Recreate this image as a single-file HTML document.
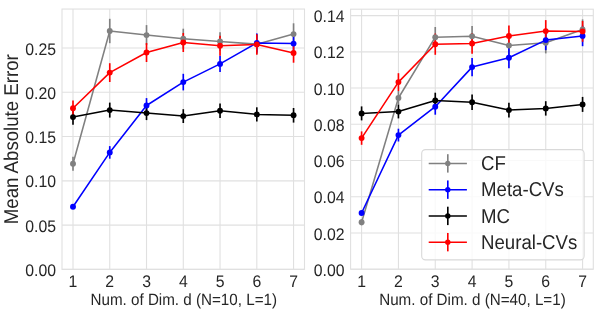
<!DOCTYPE html>
<html><head><meta charset="utf-8"><style>
html,body{margin:0;padding:0;background:#fff;}
svg{display:block;will-change:transform;}
text{font-family:"Liberation Sans",sans-serif;fill:#262626;text-rendering:geometricPrecision;-webkit-font-smoothing:antialiased;}
</style></head><body>
<svg width="598" height="312" viewBox="0 0 598 312">
<rect width="598" height="312" fill="#fff"/>
<line x1="73.00" y1="9.05" x2="73.00" y2="269.4" stroke="#e0e0e0" stroke-width="1.1"/>
<line x1="109.76" y1="9.05" x2="109.76" y2="269.4" stroke="#e0e0e0" stroke-width="1.1"/>
<line x1="146.52" y1="9.05" x2="146.52" y2="269.4" stroke="#e0e0e0" stroke-width="1.1"/>
<line x1="183.28" y1="9.05" x2="183.28" y2="269.4" stroke="#e0e0e0" stroke-width="1.1"/>
<line x1="220.04" y1="9.05" x2="220.04" y2="269.4" stroke="#e0e0e0" stroke-width="1.1"/>
<line x1="256.80" y1="9.05" x2="256.80" y2="269.4" stroke="#e0e0e0" stroke-width="1.1"/>
<line x1="293.56" y1="9.05" x2="293.56" y2="269.4" stroke="#e0e0e0" stroke-width="1.1"/>
<line x1="62.0" y1="269.40" x2="304.5" y2="269.40" stroke="#e0e0e0" stroke-width="1.1"/>
<line x1="62.0" y1="225.12" x2="304.5" y2="225.12" stroke="#e0e0e0" stroke-width="1.1"/>
<line x1="62.0" y1="180.84" x2="304.5" y2="180.84" stroke="#e0e0e0" stroke-width="1.1"/>
<line x1="62.0" y1="136.56" x2="304.5" y2="136.56" stroke="#e0e0e0" stroke-width="1.1"/>
<line x1="62.0" y1="92.28" x2="304.5" y2="92.28" stroke="#e0e0e0" stroke-width="1.1"/>
<line x1="62.0" y1="48.00" x2="304.5" y2="48.00" stroke="#e0e0e0" stroke-width="1.1"/>
<rect x="62.0" y="9.05" width="242.50" height="260.35" fill="none" stroke="#e0e0e0" stroke-width="1.1"/>
<line x1="73.00" y1="156.70" x2="73.00" y2="170.70" stroke="#808080" stroke-width="1.65"/>
<line x1="109.76" y1="18.80" x2="109.76" y2="43.20" stroke="#808080" stroke-width="1.65"/>
<line x1="146.52" y1="25.10" x2="146.52" y2="45.10" stroke="#808080" stroke-width="1.65"/>
<line x1="183.28" y1="28.70" x2="183.28" y2="48.70" stroke="#808080" stroke-width="1.65"/>
<line x1="220.04" y1="32.30" x2="220.04" y2="50.70" stroke="#808080" stroke-width="1.65"/>
<line x1="256.80" y1="34.20" x2="256.80" y2="54.20" stroke="#808080" stroke-width="1.65"/>
<line x1="293.56" y1="23.30" x2="293.56" y2="44.90" stroke="#808080" stroke-width="1.65"/>
<line x1="73.00" y1="204.80" x2="73.00" y2="208.80" stroke="#0000ff" stroke-width="1.65"/>
<line x1="109.76" y1="146.10" x2="109.76" y2="158.70" stroke="#0000ff" stroke-width="1.65"/>
<line x1="146.52" y1="98.10" x2="146.52" y2="112.90" stroke="#0000ff" stroke-width="1.65"/>
<line x1="183.28" y1="73.80" x2="183.28" y2="90.40" stroke="#0000ff" stroke-width="1.65"/>
<line x1="220.04" y1="55.70" x2="220.04" y2="72.10" stroke="#0000ff" stroke-width="1.65"/>
<line x1="256.80" y1="33.40" x2="256.80" y2="52.60" stroke="#0000ff" stroke-width="1.65"/>
<line x1="293.56" y1="34.60" x2="293.56" y2="52.60" stroke="#0000ff" stroke-width="1.65"/>
<line x1="73.00" y1="109.50" x2="73.00" y2="124.70" stroke="#000000" stroke-width="1.65"/>
<line x1="109.76" y1="102.60" x2="109.76" y2="117.60" stroke="#000000" stroke-width="1.65"/>
<line x1="146.52" y1="106.10" x2="146.52" y2="120.10" stroke="#000000" stroke-width="1.65"/>
<line x1="183.28" y1="109.20" x2="183.28" y2="123.00" stroke="#000000" stroke-width="1.65"/>
<line x1="220.04" y1="103.40" x2="220.04" y2="118.00" stroke="#000000" stroke-width="1.65"/>
<line x1="256.80" y1="107.30" x2="256.80" y2="121.50" stroke="#000000" stroke-width="1.65"/>
<line x1="293.56" y1="108.00" x2="293.56" y2="122.60" stroke="#000000" stroke-width="1.65"/>
<line x1="73.00" y1="100.50" x2="73.00" y2="116.10" stroke="#ff0000" stroke-width="1.65"/>
<line x1="109.76" y1="63.20" x2="109.76" y2="82.00" stroke="#ff0000" stroke-width="1.65"/>
<line x1="146.52" y1="43.00" x2="146.52" y2="62.00" stroke="#ff0000" stroke-width="1.65"/>
<line x1="183.28" y1="33.00" x2="183.28" y2="52.00" stroke="#ff0000" stroke-width="1.65"/>
<line x1="220.04" y1="35.70" x2="220.04" y2="55.70" stroke="#ff0000" stroke-width="1.65"/>
<line x1="256.80" y1="34.30" x2="256.80" y2="54.70" stroke="#ff0000" stroke-width="1.65"/>
<line x1="293.56" y1="43.30" x2="293.56" y2="62.70" stroke="#ff0000" stroke-width="1.65"/>
<polyline points="73.00,163.70 109.76,31.00 146.52,35.10 183.28,38.70 220.04,41.50 256.80,44.20 293.56,34.10" fill="none" stroke="#808080" stroke-width="1.55" stroke-linejoin="round"/>
<circle cx="73.00" cy="163.70" r="2.95" fill="#808080"/>
<circle cx="109.76" cy="31.00" r="2.95" fill="#808080"/>
<circle cx="146.52" cy="35.10" r="2.95" fill="#808080"/>
<circle cx="183.28" cy="38.70" r="2.95" fill="#808080"/>
<circle cx="220.04" cy="41.50" r="2.95" fill="#808080"/>
<circle cx="256.80" cy="44.20" r="2.95" fill="#808080"/>
<circle cx="293.56" cy="34.10" r="2.95" fill="#808080"/>
<polyline points="73.00,206.80 109.76,152.40 146.52,105.50 183.28,82.10 220.04,63.90 256.80,43.00 293.56,43.60" fill="none" stroke="#0000ff" stroke-width="1.55" stroke-linejoin="round"/>
<circle cx="73.00" cy="206.80" r="2.95" fill="#0000ff"/>
<circle cx="109.76" cy="152.40" r="2.95" fill="#0000ff"/>
<circle cx="146.52" cy="105.50" r="2.95" fill="#0000ff"/>
<circle cx="183.28" cy="82.10" r="2.95" fill="#0000ff"/>
<circle cx="220.04" cy="63.90" r="2.95" fill="#0000ff"/>
<circle cx="256.80" cy="43.00" r="2.95" fill="#0000ff"/>
<circle cx="293.56" cy="43.60" r="2.95" fill="#0000ff"/>
<polyline points="73.00,117.10 109.76,110.10 146.52,113.10 183.28,116.10 220.04,110.70 256.80,114.40 293.56,115.30" fill="none" stroke="#000000" stroke-width="1.55" stroke-linejoin="round"/>
<circle cx="73.00" cy="117.10" r="2.95" fill="#000000"/>
<circle cx="109.76" cy="110.10" r="2.95" fill="#000000"/>
<circle cx="146.52" cy="113.10" r="2.95" fill="#000000"/>
<circle cx="183.28" cy="116.10" r="2.95" fill="#000000"/>
<circle cx="220.04" cy="110.70" r="2.95" fill="#000000"/>
<circle cx="256.80" cy="114.40" r="2.95" fill="#000000"/>
<circle cx="293.56" cy="115.30" r="2.95" fill="#000000"/>
<polyline points="73.00,108.30 109.76,72.60 146.52,52.50 183.28,42.50 220.04,45.70 256.80,44.50 293.56,53.00" fill="none" stroke="#ff0000" stroke-width="1.55" stroke-linejoin="round"/>
<circle cx="73.00" cy="108.30" r="2.95" fill="#ff0000"/>
<circle cx="109.76" cy="72.60" r="2.95" fill="#ff0000"/>
<circle cx="146.52" cy="52.50" r="2.95" fill="#ff0000"/>
<circle cx="183.28" cy="42.50" r="2.95" fill="#ff0000"/>
<circle cx="220.04" cy="45.70" r="2.95" fill="#ff0000"/>
<circle cx="256.80" cy="44.50" r="2.95" fill="#ff0000"/>
<circle cx="293.56" cy="53.00" r="2.95" fill="#ff0000"/>
<text transform="translate(56,276.00) scale(1,1.07)" text-anchor="end" font-size="15.8">0.00</text>
<text transform="translate(56,231.72) scale(1,1.07)" text-anchor="end" font-size="15.8">0.05</text>
<text transform="translate(56,187.44) scale(1,1.07)" text-anchor="end" font-size="15.8">0.10</text>
<text transform="translate(56,143.16) scale(1,1.07)" text-anchor="end" font-size="15.8">0.15</text>
<text transform="translate(56,98.88) scale(1,1.07)" text-anchor="end" font-size="15.8">0.20</text>
<text transform="translate(56,54.60) scale(1,1.07)" text-anchor="end" font-size="15.8">0.25</text>
<text transform="translate(73.00,287.3) scale(1,1.07)" text-anchor="middle" font-size="15.8">1</text>
<text transform="translate(109.76,287.3) scale(1,1.07)" text-anchor="middle" font-size="15.8">2</text>
<text transform="translate(146.52,287.3) scale(1,1.07)" text-anchor="middle" font-size="15.8">3</text>
<text transform="translate(183.28,287.3) scale(1,1.07)" text-anchor="middle" font-size="15.8">4</text>
<text transform="translate(220.04,287.3) scale(1,1.07)" text-anchor="middle" font-size="15.8">5</text>
<text transform="translate(256.80,287.3) scale(1,1.07)" text-anchor="middle" font-size="15.8">6</text>
<text transform="translate(293.56,287.3) scale(1,1.07)" text-anchor="middle" font-size="15.8">7</text>
<text transform="translate(183.75,304.6) scale(1,1.07)" text-anchor="middle" font-size="15.2">Num. of Dim. d (N=10, L=1)</text>
<line x1="361.60" y1="9.2" x2="361.60" y2="269.2" stroke="#e0e0e0" stroke-width="1.1"/>
<line x1="398.43" y1="9.2" x2="398.43" y2="269.2" stroke="#e0e0e0" stroke-width="1.1"/>
<line x1="435.26" y1="9.2" x2="435.26" y2="269.2" stroke="#e0e0e0" stroke-width="1.1"/>
<line x1="472.09" y1="9.2" x2="472.09" y2="269.2" stroke="#e0e0e0" stroke-width="1.1"/>
<line x1="508.92" y1="9.2" x2="508.92" y2="269.2" stroke="#e0e0e0" stroke-width="1.1"/>
<line x1="545.75" y1="9.2" x2="545.75" y2="269.2" stroke="#e0e0e0" stroke-width="1.1"/>
<line x1="582.58" y1="9.2" x2="582.58" y2="269.2" stroke="#e0e0e0" stroke-width="1.1"/>
<line x1="350.6" y1="269.20" x2="593.3" y2="269.20" stroke="#e0e0e0" stroke-width="1.1"/>
<line x1="350.6" y1="232.97" x2="593.3" y2="232.97" stroke="#e0e0e0" stroke-width="1.1"/>
<line x1="350.6" y1="196.74" x2="593.3" y2="196.74" stroke="#e0e0e0" stroke-width="1.1"/>
<line x1="350.6" y1="160.52" x2="593.3" y2="160.52" stroke="#e0e0e0" stroke-width="1.1"/>
<line x1="350.6" y1="124.29" x2="593.3" y2="124.29" stroke="#e0e0e0" stroke-width="1.1"/>
<line x1="350.6" y1="88.06" x2="593.3" y2="88.06" stroke="#e0e0e0" stroke-width="1.1"/>
<line x1="350.6" y1="51.83" x2="593.3" y2="51.83" stroke="#e0e0e0" stroke-width="1.1"/>
<line x1="350.6" y1="15.60" x2="593.3" y2="15.60" stroke="#e0e0e0" stroke-width="1.1"/>
<rect x="350.6" y="9.2" width="242.70" height="260.00" fill="none" stroke="#e0e0e0" stroke-width="1.1"/>
<line x1="361.60" y1="219.30" x2="361.60" y2="225.30" stroke="#808080" stroke-width="1.65"/>
<line x1="398.43" y1="91.00" x2="398.43" y2="105.00" stroke="#808080" stroke-width="1.65"/>
<line x1="435.26" y1="27.00" x2="435.26" y2="47.40" stroke="#808080" stroke-width="1.65"/>
<line x1="472.09" y1="25.90" x2="472.09" y2="46.50" stroke="#808080" stroke-width="1.65"/>
<line x1="508.92" y1="35.50" x2="508.92" y2="55.50" stroke="#808080" stroke-width="1.65"/>
<line x1="545.75" y1="32.00" x2="545.75" y2="53.40" stroke="#808080" stroke-width="1.65"/>
<line x1="582.58" y1="19.40" x2="582.58" y2="39.40" stroke="#808080" stroke-width="1.65"/>
<line x1="361.60" y1="211.00" x2="361.60" y2="215.00" stroke="#0000ff" stroke-width="1.65"/>
<line x1="398.43" y1="128.70" x2="398.43" y2="141.50" stroke="#0000ff" stroke-width="1.65"/>
<line x1="435.26" y1="98.70" x2="435.26" y2="114.70" stroke="#0000ff" stroke-width="1.65"/>
<line x1="472.09" y1="57.90" x2="472.09" y2="76.30" stroke="#0000ff" stroke-width="1.65"/>
<line x1="508.92" y1="47.20" x2="508.92" y2="68.20" stroke="#0000ff" stroke-width="1.65"/>
<line x1="545.75" y1="30.10" x2="545.75" y2="50.10" stroke="#0000ff" stroke-width="1.65"/>
<line x1="582.58" y1="25.60" x2="582.58" y2="46.20" stroke="#0000ff" stroke-width="1.65"/>
<line x1="361.60" y1="106.40" x2="361.60" y2="120.40" stroke="#000000" stroke-width="1.65"/>
<line x1="398.43" y1="104.80" x2="398.43" y2="118.40" stroke="#000000" stroke-width="1.65"/>
<line x1="435.26" y1="92.70" x2="435.26" y2="108.30" stroke="#000000" stroke-width="1.65"/>
<line x1="472.09" y1="94.50" x2="472.09" y2="109.90" stroke="#000000" stroke-width="1.65"/>
<line x1="508.92" y1="102.80" x2="508.92" y2="117.40" stroke="#000000" stroke-width="1.65"/>
<line x1="545.75" y1="101.20" x2="545.75" y2="115.60" stroke="#000000" stroke-width="1.65"/>
<line x1="582.58" y1="96.90" x2="582.58" y2="111.90" stroke="#000000" stroke-width="1.65"/>
<line x1="361.60" y1="131.40" x2="361.60" y2="144.80" stroke="#ff0000" stroke-width="1.65"/>
<line x1="398.43" y1="73.20" x2="398.43" y2="91.00" stroke="#ff0000" stroke-width="1.65"/>
<line x1="435.26" y1="33.60" x2="435.26" y2="54.80" stroke="#ff0000" stroke-width="1.65"/>
<line x1="472.09" y1="33.00" x2="472.09" y2="53.80" stroke="#ff0000" stroke-width="1.65"/>
<line x1="508.92" y1="25.40" x2="508.92" y2="46.60" stroke="#ff0000" stroke-width="1.65"/>
<line x1="545.75" y1="20.10" x2="545.75" y2="42.10" stroke="#ff0000" stroke-width="1.65"/>
<line x1="582.58" y1="21.00" x2="582.58" y2="41.80" stroke="#ff0000" stroke-width="1.65"/>
<polyline points="361.60,222.30 398.43,98.00 435.26,37.20 472.09,36.20 508.92,45.50 545.75,42.70 582.58,29.40" fill="none" stroke="#808080" stroke-width="1.55" stroke-linejoin="round"/>
<circle cx="361.60" cy="222.30" r="2.95" fill="#808080"/>
<circle cx="398.43" cy="98.00" r="2.95" fill="#808080"/>
<circle cx="435.26" cy="37.20" r="2.95" fill="#808080"/>
<circle cx="472.09" cy="36.20" r="2.95" fill="#808080"/>
<circle cx="508.92" cy="45.50" r="2.95" fill="#808080"/>
<circle cx="545.75" cy="42.70" r="2.95" fill="#808080"/>
<circle cx="582.58" cy="29.40" r="2.95" fill="#808080"/>
<polyline points="361.60,213.00 398.43,135.10 435.26,106.70 472.09,67.10 508.92,57.70 545.75,40.10 582.58,35.90" fill="none" stroke="#0000ff" stroke-width="1.55" stroke-linejoin="round"/>
<circle cx="361.60" cy="213.00" r="2.95" fill="#0000ff"/>
<circle cx="398.43" cy="135.10" r="2.95" fill="#0000ff"/>
<circle cx="435.26" cy="106.70" r="2.95" fill="#0000ff"/>
<circle cx="472.09" cy="67.10" r="2.95" fill="#0000ff"/>
<circle cx="508.92" cy="57.70" r="2.95" fill="#0000ff"/>
<circle cx="545.75" cy="40.10" r="2.95" fill="#0000ff"/>
<circle cx="582.58" cy="35.90" r="2.95" fill="#0000ff"/>
<polyline points="361.60,113.40 398.43,111.60 435.26,100.50 472.09,102.20 508.92,110.10 545.75,108.40 582.58,104.40" fill="none" stroke="#000000" stroke-width="1.55" stroke-linejoin="round"/>
<circle cx="361.60" cy="113.40" r="2.95" fill="#000000"/>
<circle cx="398.43" cy="111.60" r="2.95" fill="#000000"/>
<circle cx="435.26" cy="100.50" r="2.95" fill="#000000"/>
<circle cx="472.09" cy="102.20" r="2.95" fill="#000000"/>
<circle cx="508.92" cy="110.10" r="2.95" fill="#000000"/>
<circle cx="545.75" cy="108.40" r="2.95" fill="#000000"/>
<circle cx="582.58" cy="104.40" r="2.95" fill="#000000"/>
<polyline points="361.60,138.10 398.43,82.10 435.26,44.20 472.09,43.40 508.92,36.00 545.75,31.10 582.58,31.40" fill="none" stroke="#ff0000" stroke-width="1.55" stroke-linejoin="round"/>
<circle cx="361.60" cy="138.10" r="2.95" fill="#ff0000"/>
<circle cx="398.43" cy="82.10" r="2.95" fill="#ff0000"/>
<circle cx="435.26" cy="44.20" r="2.95" fill="#ff0000"/>
<circle cx="472.09" cy="43.40" r="2.95" fill="#ff0000"/>
<circle cx="508.92" cy="36.00" r="2.95" fill="#ff0000"/>
<circle cx="545.75" cy="31.10" r="2.95" fill="#ff0000"/>
<circle cx="582.58" cy="31.40" r="2.95" fill="#ff0000"/>
<text transform="translate(344.5,275.80) scale(1,1.07)" text-anchor="end" font-size="15.8">0.00</text>
<text transform="translate(344.5,239.57) scale(1,1.07)" text-anchor="end" font-size="15.8">0.02</text>
<text transform="translate(344.5,203.34) scale(1,1.07)" text-anchor="end" font-size="15.8">0.04</text>
<text transform="translate(344.5,167.12) scale(1,1.07)" text-anchor="end" font-size="15.8">0.06</text>
<text transform="translate(344.5,130.89) scale(1,1.07)" text-anchor="end" font-size="15.8">0.08</text>
<text transform="translate(344.5,94.66) scale(1,1.07)" text-anchor="end" font-size="15.8">0.10</text>
<text transform="translate(344.5,58.43) scale(1,1.07)" text-anchor="end" font-size="15.8">0.12</text>
<text transform="translate(344.5,22.20) scale(1,1.07)" text-anchor="end" font-size="15.8">0.14</text>
<text transform="translate(361.60,287.3) scale(1,1.07)" text-anchor="middle" font-size="15.8">1</text>
<text transform="translate(398.43,287.3) scale(1,1.07)" text-anchor="middle" font-size="15.8">2</text>
<text transform="translate(435.26,287.3) scale(1,1.07)" text-anchor="middle" font-size="15.8">3</text>
<text transform="translate(472.09,287.3) scale(1,1.07)" text-anchor="middle" font-size="15.8">4</text>
<text transform="translate(508.92,287.3) scale(1,1.07)" text-anchor="middle" font-size="15.8">5</text>
<text transform="translate(545.75,287.3) scale(1,1.07)" text-anchor="middle" font-size="15.8">6</text>
<text transform="translate(582.58,287.3) scale(1,1.07)" text-anchor="middle" font-size="15.8">7</text>
<text transform="translate(472.45,304.6) scale(1,1.07)" text-anchor="middle" font-size="15.2">Num. of Dim. d (N=40, L=1)</text>
<text transform="translate(18.0,139.2) rotate(-90) scale(1,1.07)" text-anchor="middle" font-size="18.65">Mean Absolute Error</text>
<rect x="421.7" y="149.6" width="162.4" height="110.3" rx="3.8" ry="3.8" fill="#ffffff" fill-opacity="0.8" stroke="#d9d9d9" stroke-width="1.1"/>
<line x1="428.7" y1="163.4" x2="466.9" y2="163.4" stroke="#808080" stroke-width="1.55"/>
<line x1="447.8" y1="154.20000000000002" x2="447.8" y2="172.6" stroke="#808080" stroke-width="1.65"/>
<circle cx="447.8" cy="163.4" r="2.7" fill="#808080"/>
<text transform="translate(481,170.10) scale(1,1.07)" font-size="18.65">CF</text>
<line x1="428.7" y1="189.65" x2="466.9" y2="189.65" stroke="#0000ff" stroke-width="1.55"/>
<line x1="447.8" y1="180.45000000000002" x2="447.8" y2="198.85" stroke="#0000ff" stroke-width="1.65"/>
<circle cx="447.8" cy="189.65" r="2.7" fill="#0000ff"/>
<text transform="translate(481,196.35) scale(1,1.07)" font-size="18.65">Meta-CVs</text>
<line x1="428.7" y1="215.9" x2="466.9" y2="215.9" stroke="#000000" stroke-width="1.55"/>
<line x1="447.8" y1="206.70000000000002" x2="447.8" y2="225.1" stroke="#000000" stroke-width="1.65"/>
<circle cx="447.8" cy="215.9" r="2.7" fill="#000000"/>
<text transform="translate(481,222.60) scale(1,1.07)" font-size="18.65">MC</text>
<line x1="428.7" y1="242.15" x2="466.9" y2="242.15" stroke="#ff0000" stroke-width="1.55"/>
<line x1="447.8" y1="232.95000000000002" x2="447.8" y2="251.35" stroke="#ff0000" stroke-width="1.65"/>
<circle cx="447.8" cy="242.15" r="2.7" fill="#ff0000"/>
<text transform="translate(481,248.85) scale(1,1.07)" font-size="18.65">Neural-CVs</text>
</svg>
</body></html>
